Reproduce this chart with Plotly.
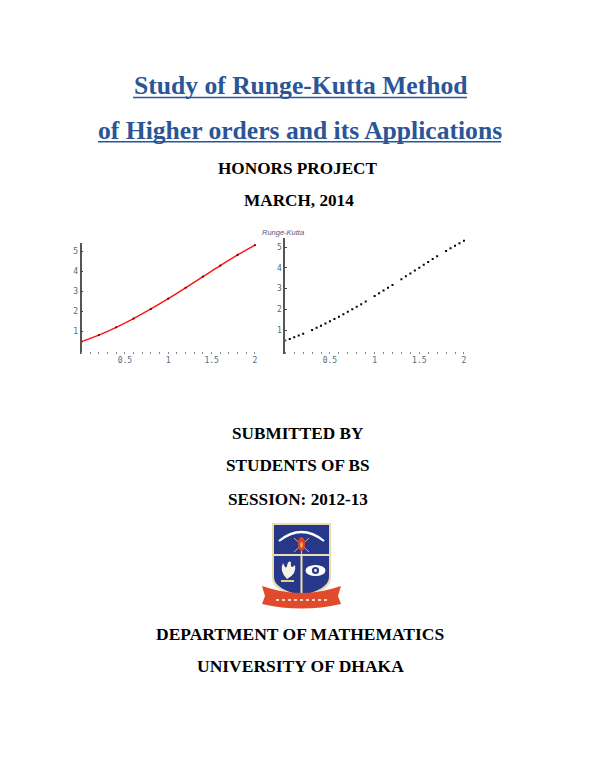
import plotly.graph_objects as go

# Runge-Kutta solution of y' = y - x^2 + 1, y(0) = 0.5
rk_x = [0.0, 0.2, 0.4, 0.6, 0.8, 1.0, 1.2, 1.4, 1.6, 1.8, 2.0]
rk_y = [0.5, 0.8293, 1.2141, 1.6489, 2.1272, 2.6408, 3.1799, 3.7324, 4.2835, 4.8152, 5.3055]

dot_x = [0.0, 0.05, 0.1, 0.15, 0.2, 0.3, 0.35, 0.4, 0.45, 0.5, 0.55, 0.6, 0.65, 0.7,
         0.75, 0.8, 0.85, 0.9, 1.0, 1.05, 1.1, 1.15, 1.2, 1.3, 1.35, 1.4, 1.45, 1.5,
         1.55, 1.6, 1.65, 1.7, 1.8, 1.85, 1.9, 1.95, 2.0]
dot_y = [0.5, 0.5769, 0.6574, 0.7416, 0.8293, 1.0151, 1.1130, 1.2141, 1.3183, 1.4256,
         1.5359, 1.6489, 1.7647, 1.8831, 2.0040, 2.1272, 2.2527, 2.3802, 2.6409, 2.7737,
         2.9079, 3.0434, 3.1799, 3.4554, 3.5938, 3.7324, 3.8709, 4.0092, 4.1468, 4.2835,
         4.4190, 4.5530, 4.8152, 4.9426, 5.0671, 5.1882, 5.3055]

x_ticks = [0.5, 1, 1.5, 2]
x_tick_text = ["0.5", "1", "1.5", "2"]
y_ticks = [1, 2, 3, 4, 5]

# the page body has an 8px margin, so the figure starts at (8, 8)
OFF = 8
W, H = 584, 760
BLUE = "#2a5596"
SERIF = "Liberation Serif"

def px(v):
    return (v - OFF) / W

def py(v):
    return 1 - (v - OFF) / H

fig = go.Figure()

# left plot: red curve
fig.add_trace(go.Scatter(x=rk_x, y=rk_y, mode="lines+markers", xaxis="x", yaxis="y",
                         line=dict(color="#ff1010", width=1.4, shape="spline"),
                         marker=dict(color="#700", size=2.2), showlegend=False,
                         hoverinfo="skip"))
# right plot: dotted points
fig.add_trace(go.Scatter(x=dot_x, y=dot_y, mode="markers", xaxis="x2", yaxis="y2",
                         marker=dict(color="black", size=2, symbol="square"),
                         showlegend=False, hoverinfo="skip"))

tick_font = dict(family="DejaVu Sans Mono", size=8, color="#556677")

def x_axis(dom, anchor):
    return dict(domain=dom, anchor=anchor, range=[0, 2.05], showgrid=False, zeroline=False,
                showline=False, tickvals=x_ticks, ticktext=x_tick_text, ticks="",
                tickfont=tick_font,
                minor=dict(dtick=0.1, tick0=0, ticks="inside", ticklen=2, tickcolor="#888",
                           showgrid=False))

def y_axis(dom, anchor, rng):
    return dict(domain=dom, anchor=anchor, range=rng, showgrid=False, zeroline=False,
                showline=True, linecolor="#555", linewidth=1.5, tickvals=y_ticks,
                ticks="inside", ticklen=2, tickcolor="#444", tickfont=tick_font)

fig.update_layout(
    width=W, height=H, margin=dict(l=0, r=0, t=0, b=0),
    paper_bgcolor="white", plot_bgcolor="rgba(0,0,0,0)",
    xaxis=x_axis([px(81.5), px(259.3)], "y"),
    yaxis=y_axis([py(354.1), py(242.8)], "x", [-0.12, 5.42]),
    xaxis2=x_axis([px(285.3), px(468.4)], "y2"),
    yaxis2=y_axis([py(353.9), py(238.1)], "x2", [-0.14, 5.43]),
    # canvas in page pixels for the text and the logo
    xaxis3=dict(domain=[0, 1], range=[OFF, OFF + W], visible=False, anchor="y3"),
    yaxis3=dict(domain=[0, 1], range=[OFF + H, OFF], visible=False, anchor="x3"),
)

def text(s, x, y, size, color="black", fam=SERIF, bold=True, italic=False):
    t = f"<b>{s}</b>" if bold else s
    if italic:
        t = f"<i>{t}</i>"
    fig.add_annotation(x=x, y=y, xref="x3", yref="y3", text=t, showarrow=False,
                       font=dict(family=fam, size=size, color=color),
                       xanchor="center", yanchor="middle")

text("Study of Runge-Kutta Method", 300, 85, 25.6, BLUE)
text("of Higher orders and its Applications", 300, 130, 25.6, BLUE)
text("HONORS PROJECT", 298, 168, 17.2)
text("MARCH, 2014", 299, 200, 17.2)
text("SUBMITTED BY", 298, 433, 17.2)
text("STUDENTS OF BS", 298, 465.5, 17.2)
text("SESSION: 2012-13", 298, 499.5, 17.2)
text("DEPARTMENT OF MATHEMATICS", 300, 634, 17.5)
text("UNIVERSITY OF DHAKA", 300, 666, 17.5)
text("Runge-Kutta", 283, 232, 7.5, "#4a5a80", "Liberation Sans", bold=False, italic=True)

shapes = []

def line(x0, y0, x1, y1, color, width, dash="solid"):
    shapes.append(dict(type="line", xref="x3", yref="y3", x0=x0, y0=y0, x1=x1, y1=y1,
                       line=dict(color=color, width=width, dash=dash)))

def path(d, fill, color=None, width=0):
    shapes.append(dict(type="path", xref="x3", yref="y3", path=d, fillcolor=fill,
                       line=dict(color=color or fill, width=width)))

def oval(cx, cy, rx, ry, fill, color=None, width=0):
    shapes.append(dict(type="circle", xref="x3", yref="y3", x0=cx - rx, x1=cx + rx,
                       y0=cy - ry, y1=cy + ry, fillcolor=fill,
                       line=dict(color=color or fill, width=width)))

# title underlines
line(133, 97.5, 467, 97.5, BLUE, 1.6)
line(98, 141.8, 501, 141.8, BLUE, 1.6)

# university crest
path("M 272,523 L 331,523 L 331,578 Q 331,591 301.5,598 Q 272,591 272,578 Z", "#e6dcb0")
path("M 274,525 L 329,525 L 329,577 Q 329,589 301.5,595.5 Q 274,589 274,577 Z", "#27388a")
line(274, 555, 329, 555, "#eadfae", 2)
line(301.5, 555, 301.5, 595, "#eadfae", 2)
path("M 279,541 Q 301.5,523 324,541", "rgba(0,0,0,0)", "white", 2.2)
line(301.5, 546, 301.5, 554, "#c9b77a", 1.2)
line(294, 538, 309, 552, "#c9b77a", 1)
line(309, 538, 294, 552, "#c9b77a", 1)
oval(301.5, 544, 3.6, 7, "#e0402a")
oval(301.5, 545, 1.4, 3, "#f3b24a")
# lotus
path("M 287,579 Q 279,571 283,563 Q 286,570 287,566 Q 288,560 291,562 Q 290,570 295,565 "
     "Q 297,574 287,579 Z", "#f5f2e6")
line(281, 581, 294, 581, "#e6d27a", 2)
# eye
oval(315.5, 570.5, 10, 5.5, "white")
oval(315.5, 570.5, 3.6, 3.6, "#27388a")
oval(315.5, 570.5, 1.4, 1.4, "white")
# ribbon
path("M 262,586 L 272,589 Q 301.5,597 331,589 L 341,586 L 338,596 L 341,604 "
     "Q 301.5,613 262,604 L 265,596 Z", "#e24a2c")
line(276, 600, 327, 600, "white", 1.6, "dot")

fig.update_layout(shapes=shapes)

fig.write_html("out.html")
